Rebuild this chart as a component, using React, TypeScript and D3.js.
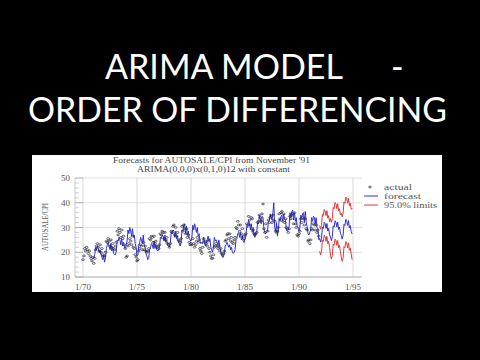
import React from "react";
import * as d3 from "d3";

// ---- data (monthly, 1/70 .. 11/91 actual; one-step fitted from 1/71; forecasts 12/91 .. 12/94)
const actual: number[] = [
  // 1970
  17.0, 18.5, 21.5, 20.5, 22.0, 21.0, 19.5, 20.5, 18.5, 17.5, 16.5, 18.0,
  // 1971
  15.5, 17.5, 21.0, 22.5, 23.5, 22.0, 20.5, 23.0, 20.0, 21.5, 19.0, 18.5,
  // 1972
  18.5, 20.0, 24.5, 24.0, 25.5, 24.5, 22.5, 25.0, 22.0, 23.5, 21.5, 21.0,
  // 1973
  22.5, 24.0, 28.5, 27.0, 29.5, 28.0, 26.0, 29.0, 25.5, 26.5, 23.0, 21.5,
  // 1974
  18.0, 18.5, 22.5, 23.5, 25.5, 24.5, 23.0, 26.5, 22.0, 21.5, 19.0, 18.0,
  // 1975
  16.5, 17.0, 20.5, 21.5, 23.0, 22.5, 21.0, 24.0, 21.0, 22.5, 20.5, 20.0,
  // 1976
  20.5, 21.5, 25.5, 25.0, 26.5, 26.0, 24.0, 26.5, 23.5, 24.5, 22.5, 22.0,
  // 1977
  21.5, 23.0, 27.5, 27.0, 28.5, 28.0, 25.5, 28.0, 25.0, 26.0, 23.5, 23.0,
  // 1978
  22.0, 23.5, 28.5, 28.0, 30.5, 31.0, 27.0, 30.0, 26.5, 28.0, 25.0, 24.5,
  // 1979
  24.0, 25.5, 30.5, 28.5, 31.0, 29.5, 27.5, 29.5, 26.0, 27.0, 24.0, 23.0,
  // 1980
  23.5, 23.0, 25.5, 23.5, 22.0, 23.0, 24.5, 26.0, 24.0, 25.0, 21.5, 20.5,
  // 1981
  19.5, 22.0, 25.5, 24.0, 24.5, 23.5, 22.5, 24.5, 21.5, 20.0, 18.5, 17.5,
  // 1982
  17.5, 19.0, 22.0, 22.5, 23.5, 22.5, 21.5, 22.5, 20.5, 21.5, 19.5, 19.0,
  // 1983
  19.5, 20.5, 24.5, 25.0, 27.0, 27.5, 25.5, 27.5, 24.5, 26.0, 24.0, 23.5,
  // 1984
  25.0, 26.0, 30.0, 29.5, 32.5, 31.0, 28.5, 31.0, 27.5, 29.5, 26.5, 25.5,
  // 1985
  27.0, 27.5, 31.5, 31.0, 34.5, 33.0, 31.0, 34.0, 33.5, 29.0, 27.5, 27.0,
  // 1986
  27.5, 28.0, 32.0, 32.5, 35.0, 34.0, 32.5, 35.5, 39.5, 29.5, 28.0, 31.5,
  // 1987
  26.0, 28.5, 33.0, 32.0, 34.0, 34.5, 32.0, 35.0, 33.0, 32.5, 28.5, 28.0,
  // 1988
  28.5, 30.0, 35.5, 33.5, 36.0, 36.5, 32.5, 35.5, 32.0, 33.5, 30.0, 29.5,
  // 1989
  28.0, 29.5, 34.5, 33.5, 35.0, 35.5, 31.5, 36.0, 31.5, 30.0, 27.0, 26.5,
  // 1990
  27.5, 28.5, 33.5, 32.0, 34.0, 33.5, 31.0, 33.5, 29.5, 29.0, 24.5, 25.0,
  // 1991 (to Nov)
  23.5, 25.0, 29.5, 29.0, 31.5, 31.0, 29.0, 31.0, 28.0, 29.0, 26.5,
];

const fitted: number[] = [
  // 1971
  17.5, 19.0, 22.0, 21.0, 22.5, 21.5, 20.0, 21.0, 19.0, 18.0, 17.0, 18.5,
  // 1972
  16.0, 18.0, 21.5, 23.0, 24.0, 22.5, 21.0, 23.5, 20.5, 22.0, 19.5, 19.0,
  // 1973
  19.0, 20.5, 25.0, 24.5, 26.0, 25.0, 23.0, 25.5, 22.5, 24.0, 22.0, 21.5,
  // 1974
  23.0, 24.5, 29.0, 27.5, 30.0, 28.5, 26.5, 29.5, 26.0, 27.0, 23.5, 22.0,
  // 1975
  18.5, 19.0, 23.0, 24.0, 26.0, 25.0, 23.5, 27.0, 22.5, 22.0, 19.5, 18.5,
  // 1976
  17.0, 17.5, 21.0, 22.0, 23.5, 23.0, 21.5, 24.5, 21.5, 23.0, 21.0, 20.5,
  // 1977
  21.0, 22.0, 26.0, 25.5, 27.0, 26.5, 24.5, 27.0, 24.0, 25.0, 23.0, 22.5,
  // 1978
  22.0, 23.5, 28.0, 27.5, 29.0, 28.5, 26.0, 28.5, 25.5, 26.5, 24.0, 23.5,
  // 1979
  22.5, 24.0, 29.0, 28.5, 31.0, 31.5, 27.5, 30.5, 27.0, 28.5, 25.5, 25.0,
  // 1980
  24.5, 26.0, 31.0, 29.0, 31.5, 30.0, 28.0, 30.0, 26.5, 27.5, 24.5, 23.5,
  // 1981
  24.0, 23.5, 26.0, 24.0, 22.5, 23.5, 25.0, 26.5, 24.5, 25.5, 22.0, 21.0,
  // 1982
  20.0, 22.5, 26.0, 24.5, 25.0, 24.0, 23.0, 25.0, 22.0, 20.5, 19.0, 18.0,
  // 1983
  18.0, 19.5, 22.5, 23.0, 24.0, 23.0, 22.0, 23.0, 21.0, 22.0, 20.0, 19.5,
  // 1984
  20.0, 21.0, 25.0, 25.5, 27.5, 28.0, 26.0, 28.0, 25.0, 26.5, 24.5, 24.0,
  // 1985
  25.5, 26.5, 30.5, 30.0, 33.0, 31.5, 29.0, 31.5, 28.0, 30.0, 27.0, 26.0,
  // 1986
  27.5, 28.0, 32.0, 31.5, 35.0, 33.5, 31.5, 34.5, 34.0, 29.5, 28.0, 27.5,
  // 1987
  28.0, 28.5, 32.5, 33.0, 35.5, 34.5, 33.0, 36.0, 40.0, 30.0, 28.5, 32.0,
  // 1988
  26.5, 29.0, 33.5, 32.5, 34.5, 35.0, 32.5, 35.5, 33.5, 33.0, 29.0, 28.5,
  // 1989
  29.0, 30.5, 36.0, 34.0, 36.5, 37.0, 33.0, 36.0, 32.5, 34.0, 30.5, 30.0,
  // 1990
  28.5, 30.0, 35.0, 34.0, 35.5, 36.0, 32.0, 36.5, 32.0, 30.5, 27.5, 27.0,
  // 1991 (to Nov)
  28.0, 29.0, 34.0, 32.5, 34.5, 34.0, 31.5, 34.0, 30.0, 29.5, 25.0,
];

const forecast: number[] = [
  25.6,
  24.1, 25.6, 30.1, 29.6, 32.1, 31.6, 29.6, 31.6, 28.6, 29.6, 27.1, 26.2,
  24.7, 26.2, 30.7, 30.2, 32.7, 32.2, 30.2, 32.2, 29.2, 30.2, 27.7, 26.8,
  25.3, 26.8, 31.3, 30.8, 33.3, 32.8, 30.8, 32.8, 29.8, 30.8, 28.3, 27.4,
];

const upper: number[] = [
  30.8, 29.3, 30.8, 35.3, 34.8, 37.3, 36.8, 34.8, 36.8, 33.8, 34.8, 32.3,
  33.6, 32.1, 33.6, 38.1, 37.6, 40.1, 39.6, 37.6, 39.6, 36.6, 37.6, 35.1,
  35.8, 34.3, 35.8, 40.3, 39.8, 42.3, 41.8, 39.8, 41.8, 38.8, 39.8, 37.3,
  37.8,
];

const lower: number[] = [
  20.4, 18.9, 20.4, 24.9, 24.4, 26.9, 26.4, 24.4, 26.4, 23.4, 24.4, 21.9,
  18.8, 17.3, 18.8, 23.3, 22.8, 25.3, 24.8, 22.8, 24.8, 21.8, 22.8, 20.3,
  17.8, 16.3, 17.8, 22.3, 21.8, 24.3, 23.8, 21.8, 23.8, 20.8, 21.8, 19.3,
  17.0,
];

const xTickLabels = ["1/70", "1/75", "1/80", "1/85", "1/90", "1/95"];
const xTickMonths = [0, 60, 120, 180, 240, 300];
const yTicks = [10, 20, 30, 40, 50];
const minorY = [12, 14, 16, 18, 22, 24, 26, 28, 32, 34, 36, 38, 42, 44, 46, 48];

const ACTUAL_START = 0;
const FITTED_START = 12;
const FORECAST_START = 263;

export default function App() {
  const x = d3.scaleLinear().domain([0, 300]).range([83, 353]);
  const y = d3.scaleLinear().domain([10, 50]).range([277, 178]);

  const blueSeries = [
    ...fitted.map((v, i) => [FITTED_START + i, v] as [number, number]),
    ...forecast.map((v, i) => [FORECAST_START + i, v] as [number, number]),
  ];
  const line = d3
    .line<[number, number]>()
    .x((d) => x(d[0]))
    .y((d) => y(d[1]));
  const upperPts = upper.map((v, i) => [FORECAST_START + i, v] as [number, number]);
  const lowerPts = lower.map((v, i) => [FORECAST_START + i, v] as [number, number]);

  const serif = "'Liberation Serif', 'DejaVu Serif', serif";
  const sans = "Lato, 'Open Sans', sans-serif";

  return (
    <svg
      width={480}
      height={360}
      style={{ position: "fixed", left: 0, top: 0, display: "block" }}
    >
      <rect x={0} y={0} width={480} height={360} fill="#000" />
      {/* slide title */}
      <text x={105} y={79} fill="#fff" fontFamily={sans} fontSize={34} textLength={238} lengthAdjust="spacingAndGlyphs">
        ARIMA MODEL
      </text>
      <text x={391} y={79} fill="#fff" fontFamily={sans} fontSize={34}>
        -
      </text>
      <text x={28} y={122} fill="#fff" fontFamily={sans} fontSize={34} textLength={419} lengthAdjust="spacingAndGlyphs">
        ORDER OF DIFFERENCING
      </text>

      {/* chart image */}
      <rect x={32} y={155} width={410} height={137} fill="#fff" />
      <text x={113} y={163} fontFamily={serif} fontSize={8.5} fill="#444" textLength={197} lengthAdjust="spacingAndGlyphs">
        Forecasts for AUTOSALE/CPI from November '91
      </text>
      <text x={137} y={171.5} fontFamily={serif} fontSize={8.5} fill="#444" textLength={153} lengthAdjust="spacingAndGlyphs">
        ARIMA(0,0,0)x(0,1,0)12 with constant
      </text>

      {/* grid */}
      {yTicks.map((t) => (
        <line key={"gy" + t} x1={83} x2={362} y1={y(t)} y2={y(t)} stroke="#d8d8d8" strokeWidth={0.8} />
      ))}
      {xTickMonths.map((m) => (
        <line key={"gx" + m} x1={x(m)} x2={x(m)} y1={y(50)} y2={y(10)} stroke="#cfcfcf" strokeWidth={0.8} />
      ))}
      {/* axes */}
      <line x1={75} x2={75} y1={y(50)} y2={y(10)} stroke="#bbb" strokeWidth={0.8} />
      {yTicks.map((t) => (
        <line key={"ty" + t} x1={75} x2={83} y1={y(t)} y2={y(t)} stroke="#999" strokeWidth={0.8} />
      ))}
      {minorY.map((t) => (
        <line key={"my" + t} x1={75} x2={79} y1={y(t)} y2={y(t)} stroke="#bbb" strokeWidth={0.7} />
      ))}
      <line x1={75} x2={362} y1={y(10)} y2={y(10)} stroke="#aaa" strokeWidth={0.8} />
      {yTicks.map((t) => (
        <text key={"ly" + t} x={70} y={y(t) + 3} textAnchor="end" fontFamily={serif} fontSize={9} fill="#555">
          {t}
        </text>
      ))}
      {xTickMonths.map((m, i) => (
        <text key={"lx" + m} x={x(m)} y={289.5} textAnchor="middle" fontFamily={serif} fontSize={9} fill="#555">
          {xTickLabels[i]}
        </text>
      ))}
      <text
        transform="translate(48,227) rotate(-90)"
        textAnchor="middle"
        fontFamily={serif}
        fontSize={9}
        fill="#555"
        textLength={48}
        lengthAdjust="spacingAndGlyphs"
      >
        AUTOSALE/CPI
      </text>

      {/* series */}
      <path d={line(blueSeries) || ""} fill="none" stroke="#3030d8" strokeWidth={1} />
      <path d={line(upperPts) || ""} fill="none" stroke="#e03a3a" strokeWidth={1} />
      <path d={line(lowerPts) || ""} fill="none" stroke="#e03a3a" strokeWidth={1} />
      {actual.map((v, i) => (
        <ellipse
          key={"a" + i}
          cx={x(ACTUAL_START + i)}
          cy={y(v)}
          rx={1.4}
          ry={0.9}
          fill="none"
          stroke="#2a2a40"
          strokeWidth={0.7}
        />
      ))}

      {/* legend */}
      <ellipse cx={370} cy={187} rx={1.4} ry={0.9} fill="none" stroke="#2a2a40" strokeWidth={0.7} />
      <text x={384} y={190} fontFamily={serif} fontSize={8.5} fill="#555" textLength={28} lengthAdjust="spacingAndGlyphs">actual</text>
      <line x1={364} x2={378} y1={196} y2={196} stroke="#3030d8" strokeWidth={1} />
      <text x={384} y={199} fontFamily={serif} fontSize={8.5} fill="#555" textLength={37} lengthAdjust="spacingAndGlyphs">forecast</text>
      <line x1={364} x2={378} y1={205} y2={205} stroke="#e03a3a" strokeWidth={1} />
      <text x={384} y={208} fontFamily={serif} fontSize={8.5} fill="#555" textLength={53} lengthAdjust="spacingAndGlyphs">95.0% limits</text>
    </svg>
  );
}
